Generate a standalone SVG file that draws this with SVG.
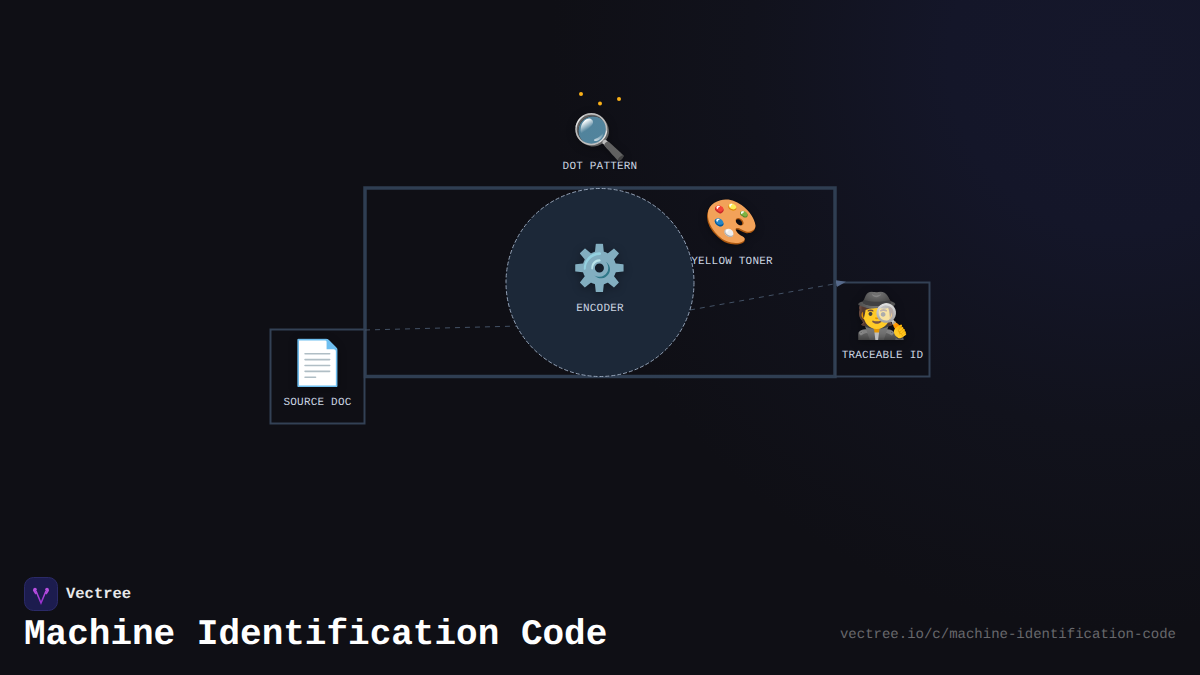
<svg xmlns="http://www.w3.org/2000/svg" width="1200" height="675" viewBox="0 0 1200 675">
<defs>
<radialGradient id="bg" gradientUnits="userSpaceOnUse" cx="1120" cy="60" r="570">
<stop offset="0" stop-color="#15172b"/><stop offset="0.3" stop-color="#141629"/><stop offset="0.65" stop-color="#11121c"/><stop offset="1" stop-color="#0f0f15"/>
</radialGradient>
<marker id="arrow" markerWidth="10" markerHeight="7" refX="9" refY="3.5" orient="auto" markerUnits="userSpaceOnUse"><path d="M0 0L10 3.5L0 7Z" fill="#56698a"/></marker>
<linearGradient id="logoStroke" x1="0" y1="0" x2="0" y2="1"><stop offset="0" stop-color="#b84fe0"/><stop offset="1" stop-color="#9a2fd0"/></linearGradient>
</defs>
<style>
text{text-rendering:geometricPrecision}
.label{font-family:"Liberation Mono",monospace;font-size:11px;letter-spacing:.2px;fill:#cbd5e1;text-anchor:middle}
.emoji{font-family:"Noto Color Emoji",sans-serif;font-size:44px;text-anchor:middle;filter:drop-shadow(0 2px 4px rgba(0,0,0,.35))}
.box{fill:#0f0f15;fill-opacity:.6;stroke:#334155;stroke-width:2}
.conn{fill:none;stroke:#435165;stroke-width:1;stroke-dasharray:5 5}
.dot{fill:#fbb017}
</style>
<rect width="1200" height="675" fill="#0f0f15"/>
<rect width="1200" height="675" fill="url(#bg)"/>
<g id="group-frame"><rect x="365" y="188" width="470" height="188.500" fill="none" stroke="#2f3e52" stroke-width="3.500"/></g>
<g id="node-source"><rect class="box" x="270.500" y="329.500" width="94" height="94"/><text class="emoji" x="317.500" y="377.500">📄</text><text class="label" x="317.500" y="405">SOURCE DOC</text></g>
<g id="node-traceable"><rect class="box" x="835.500" y="282.500" width="94" height="94"/><text class="emoji" x="882.500" y="330.500">🕵️</text><text class="label" x="882.500" y="358">TRACEABLE ID</text></g>
<g id="connectors">
<path class="conn" d="M365 330L520 326"/>
<path class="conn" d="M690 310L845 282" marker-end="url(#arrow)"/>
</g>
<g id="node-encoder"><circle cx="600" cy="282.500" r="94" fill="#1c2838" stroke="#94a3b8" stroke-width="1" stroke-dasharray="4 2"/><text class="emoji" x="600" y="283">⚙️</text><text class="label" x="600" y="311">ENCODER</text></g>
<g id="node-dot"><circle class="dot" cx="581" cy="94" r="2"/><circle class="dot" cx="600" cy="103.500" r="2"/><circle class="dot" cx="619" cy="99" r="2"/><text class="emoji" x="600" y="151.500">🔍</text><text class="label" x="600" y="169">DOT PATTERN</text></g>
<g id="node-toner"><text class="emoji" x="732" y="236.500">🎨</text><text class="label" x="732" y="264">YELLOW TONER</text></g>
<g id="brand">
<rect x="24.500" y="577.500" width="33" height="33" rx="9" fill="#1c1c4e" stroke="#2b2a68"/>
<path d="M36 591L41 603L46 591M36 594L33.500 590M46 594L48.500 590" fill="none" stroke="url(#logoStroke)" stroke-width="1.500"/>
<circle cx="35" cy="589.500" r="1.800" fill="#b84fe0"/><circle cx="47" cy="589.500" r="1.800" fill="#b84fe0"/>
<text x="66" y="598" font-family="Liberation Mono, monospace" font-size="15.500" font-weight="700" fill="#e8e8ea">Vectree</text>
<text x="24" y="644" font-family="Liberation Mono, monospace" font-size="36" font-weight="700" fill="#ffffff">Machine Identification Code</text>
<text x="1176" y="637.500" text-anchor="end" font-family="Liberation Mono, monospace" font-size="14" fill="#68686c">vectree.io/c/machine-identification-code</text>
</g>
</svg>
